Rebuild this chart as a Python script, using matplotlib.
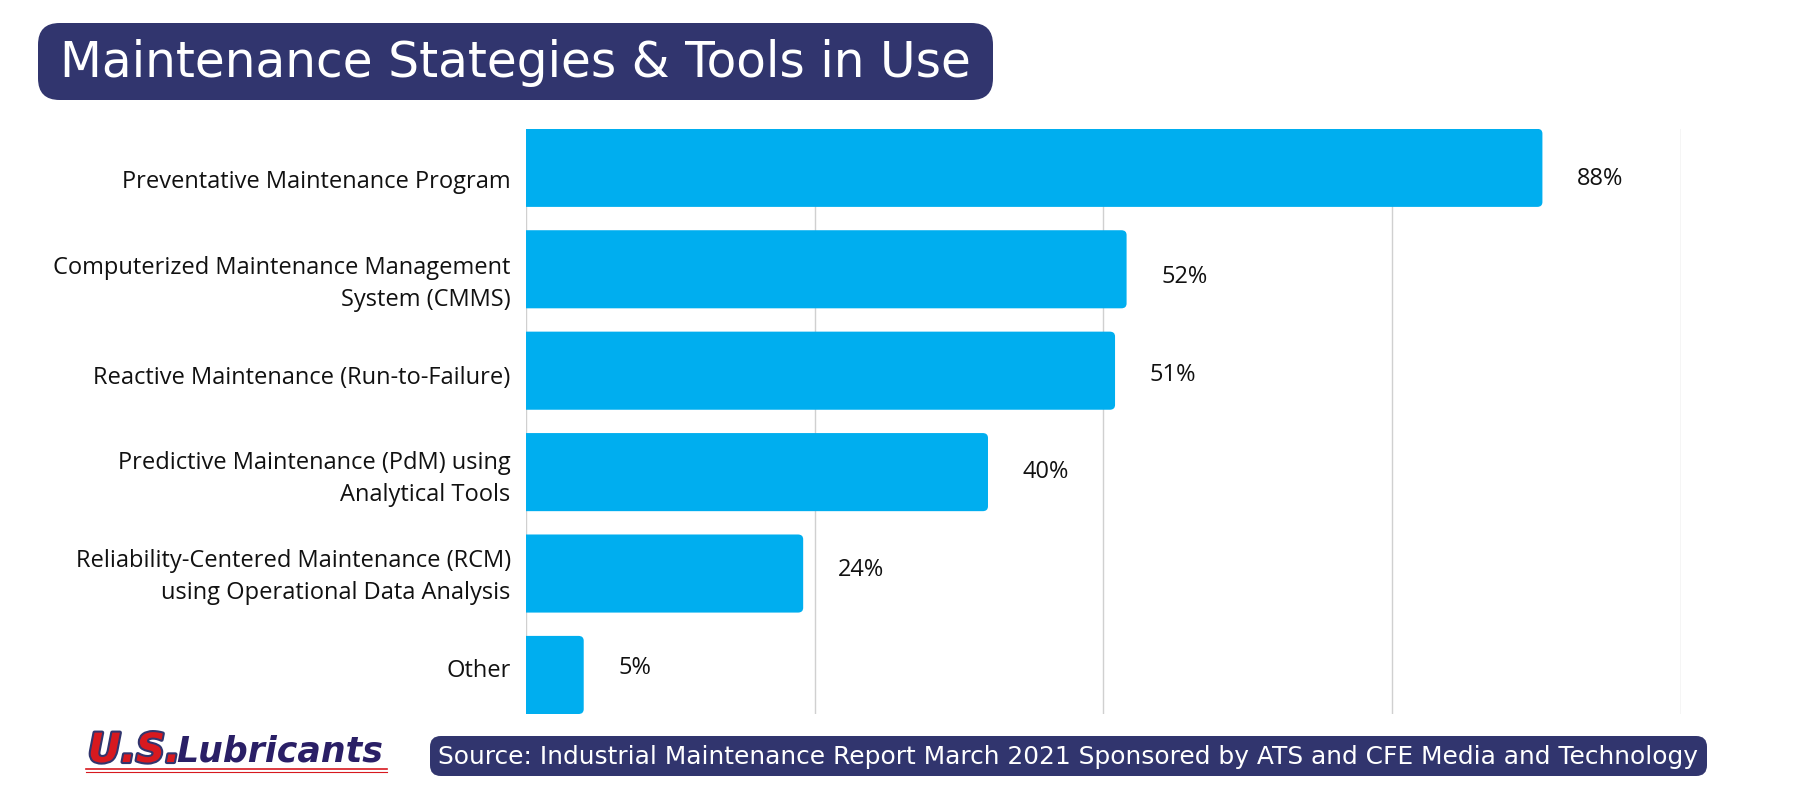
import matplotlib
matplotlib.use("Agg")
import matplotlib.pyplot as plt
import matplotlib.patheffects as pe
from matplotlib.patches import FancyBboxPatch

# ── data ──────────────────────────────────────────────────────────────
categories = [
    "Preventative Maintenance Program",
    "Computerized Maintenance Management\nSystem (CMMS)",
    "Reactive Maintenance (Run-to-Failure)",
    "Predictive Maintenance (PdM) using\nAnalytical Tools",
    "Reliability-Centered Maintenance (RCM)\nusing Operational Data Analysis",
    "Other",
]
values = [88, 52, 51, 40, 24, 5]
value_labels = ["88%", "52%", "51%", "40%", "24%", "5%"]
grid_ticks = [0, 25, 50, 75, 100]

TITLE = "Maintenance Stategies & Tools in Use"
SOURCE = "Source: Industrial Maintenance Report March 2021 Sponsored by ATS and CFE Media and Technology"

NAVY = "#31356e"
BLUE = "#00aeef"
RED = "#d7191f"

plt.rcParams["font.family"] = ["Open Sans", "DejaVu Sans"]

fig = plt.figure(figsize=(18, 8), dpi=100)
ax = fig.add_axes([0.2922, 0.1075, 0.6417, 0.7315])

bar_h = 0.77
n = len(categories)
ypos = list(range(n))
bars = ax.barh(ypos, values, height=bar_h, color=BLUE, zorder=3)

ax.set_xlim(0, 100)
ax.set_ylim(n - 1 + bar_h / 2, -bar_h / 2)

# swap the plain rectangles for ones with slightly rounded right corners;
# start them left of 0 so the axes clip away the left rounding
rx = 0.45                     # corner radius in x data units (~5 px)
aspect = 0.048 / rx           # same radius in y data units
for b in bars:
    b.set_visible(False)
    ax.add_patch(FancyBboxPatch(
        (b.get_x() - 2, b.get_y()), b.get_width() + 2, b.get_height(),
        boxstyle=f"round,pad=0,rounding_size={rx}", mutation_aspect=aspect,
        facecolor=BLUE, edgecolor="none", zorder=3))

# labels sit on a slightly tighter pitch than the bars
mid = (n - 1) / 2
label_y = [mid + (y - mid) * 0.964 + 0.02 for y in ypos]

for y, v, lab in zip(label_y, values, value_labels):
    ax.text(v + 3.0, y, lab, va="center", ha="left", fontsize=17, color="#111111")

ax.set_xticks(grid_ticks)
ax.set_xticklabels([])
ax.set_yticks(label_y)
ax.set_yticklabels(categories, fontsize=17, color="#111111", multialignment="right",
                   linespacing=1.43)
ax.tick_params(axis="both", length=0)
ax.tick_params(axis="y", pad=11)
ax.grid(axis="x", color="#d0d0d0", linewidth=1, zorder=0)
for s in ax.spines.values():
    s.set_visible(False)

# ── title box ─────────────────────────────────────────────────────────
fig.patches.append(FancyBboxPatch(
    (38 / 1800, 1 - 100 / 800), 955 / 1800, 77 / 800,
    boxstyle="round,pad=0,rounding_size=0.012", transform=fig.transFigure,
    facecolor=NAVY, edgecolor="none", mutation_aspect=2.25))
fig.text(60 / 1800, 1 - 63 / 800, TITLE, fontsize=35, color="white",
         va="center", ha="left", family=["DejaVu Sans"])

# ── source box ────────────────────────────────────────────────────────
fig.patches.append(FancyBboxPatch(
    (430 / 1800, 1 - 776 / 800), 1277 / 1800, 40 / 800,
    boxstyle="round,pad=0,rounding_size=0.006", transform=fig.transFigure,
    facecolor=NAVY, edgecolor="none", mutation_aspect=2.25))
fig.text(1068 / 1800, 1 - 757 / 800, SOURCE, fontsize=17.9, color="white",
         va="center", ha="center", family=["DejaVu Sans"])

# ── logo ──────────────────────────────────────────────────────────────
outline = [pe.withStroke(linewidth=3, foreground=NAVY)]
t1 = fig.text(88 / 1800, 1 - 751 / 800, "U.S.", fontsize=29, fontweight="bold",
              style="italic", color=RED, va="center", ha="left",
              family=["DejaVu Sans"], path_effects=outline)
r = fig.canvas.get_renderer()
bb = t1.get_window_extent(renderer=r)
fig.text(bb.x1 / 1800 - 4 / 1800, 1 - 752 / 800, "Lubricants", fontsize=25,
         fontweight="bold", style="italic", color="#2a1f66", va="center",
         ha="left", family=["DejaVu Sans"])
fig.add_artist(plt.Line2D([86 / 1800, 387 / 1800], [1 - 769 / 800] * 2,
                          transform=fig.transFigure, color=RED, linewidth=1.2))
fig.add_artist(plt.Line2D([86 / 1800, 387 / 1800], [1 - 772 / 800] * 2,
                          transform=fig.transFigure, color=RED, linewidth=0.8))

fig.savefig("out.png", dpi=100)
